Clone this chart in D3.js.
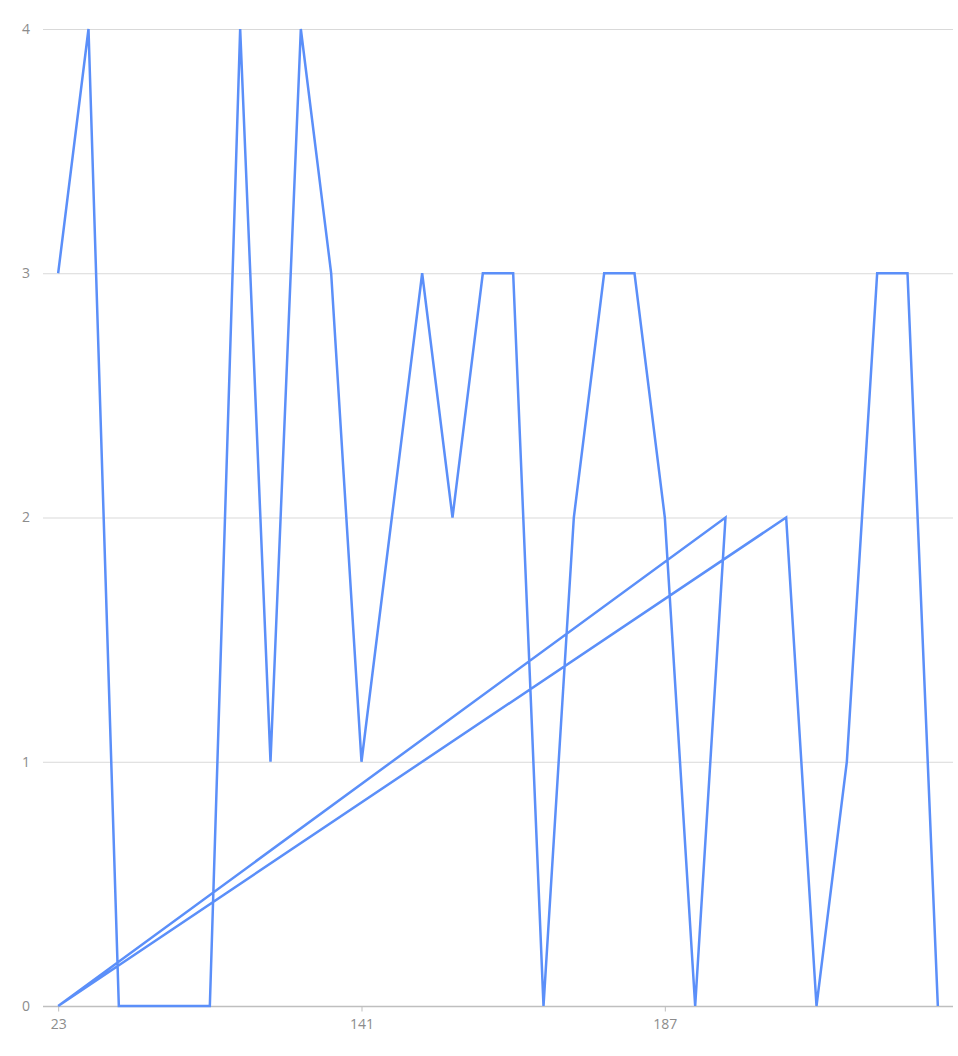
<!DOCTYPE html>
<html lang="en">
<head>
	<meta charset="utf-8">
	<title>Line chart</title>
	<script src="https://d3js.org/d3.v7.min.js"></script>
	<style>
		body { margin: 0; background: #fff; }
		text { font-family: "Open Sans", "Noto Sans", sans-serif; }
	</style>
</head>
<body>
	<script>
		// axis categories (only every 10th label is shown; "23" appears twice)
		var categories = ["23", "35", "48", "59", "72", "86", "97", "108", "119", "130",
			"141", "146", "150", "155", "159", "164", "168", "173", "178", "182",
			"187", "191", "196", "23", "204", "210", "215", "221", "226", "232"];
		// series points: category of each point and its value
		var pointCats = categories.slice();
		var values = [3, 4, 0, 0, 0, 0, 4, 1, 4, 3,
			1, 2, 3, 2, 3, 3, 0, 2, 3, 3,
			2, 0, 2, 0, 2, 0, 1, 3, 3, 0];
		var yTicks = [0, 1, 2, 3, 4];

		var w = 958;
		var h = 1056;
		var plotLeft = 43, plotRight = 953, plotTop = 29, plotBottom = 1006;

		var svg = d3.select("body")
			.append("svg")
			.attr("width", w)
			.attr("height", h);

		var xScale = d3.scalePoint()
			.domain(d3.range(categories.length))
			.range([plotLeft, plotRight])
			.padding(0.5);

		var yScale = d3.scaleLinear()
			.domain([0, 4])
			.range([plotBottom, plotTop]);

		// grid lines
		svg.append("g")
			.selectAll("line")
			.data(yTicks.filter(function(d) { return d > 0; }))
			.enter()
			.append("line")
			.attr("x1", plotLeft)
			.attr("x2", plotRight)
			.attr("y1", function(d) { return yScale(d) + 0.5; })
			.attr("y2", function(d) { return yScale(d) + 0.5; })
			.attr("stroke", "#d9d9d9")
			.attr("stroke-width", 1);

		// y labels
		svg.append("g")
			.selectAll("text")
			.data(yTicks)
			.enter()
			.append("text")
			.attr("x", 30)
			.attr("y", function(d) { return yScale(d); })
			.attr("dy", "0.35em")
			.attr("text-anchor", "end")
			.attr("font-size", 14)
			.attr("fill", "#8c8c8c")
			.text(function(d) { return d; });

		// x axis (labels every 10 categories)
		var xAxis = d3.axisBottom(xScale)
			.tickValues(d3.range(categories.length).filter(function(i) { return i % 10 === 0; }))
			.tickFormat(function(i) { return categories[i]; })
			.tickSize(5)
			.tickSizeOuter(0);

		var gx = svg.append("g")
			.attr("transform", "translate(0," + (plotBottom + 0.5) + ")")
			.call(xAxis);
		gx.select(".domain")
			.attr("d", "M" + plotLeft + ",0H" + plotRight)
			.attr("stroke", "#bfbfbf")
			.attr("stroke-width", 1.5);
		gx.selectAll(".tick line").attr("stroke", "#bfbfbf");
		gx.selectAll(".tick text")
			.attr("font-size", 14)
			.attr("font-family", "Open Sans, Noto Sans, sans-serif")
			.attr("fill", "#8c8c8c")
			.attr("y", 13);

		// line: each point is placed at the first slot of its category
		var line = d3.line()
			.x(function(d, i) { return xScale(categories.indexOf(pointCats[i])); })
			.y(function(d) { return yScale(d); });

		svg.append("path")
			.datum(values)
			.attr("d", line)
			.attr("fill", "none")
			.attr("stroke", "#5b8ff9")
			.attr("stroke-width", 2.5)
			.attr("stroke-linejoin", "miter");
	</script>
</body>
</html>
